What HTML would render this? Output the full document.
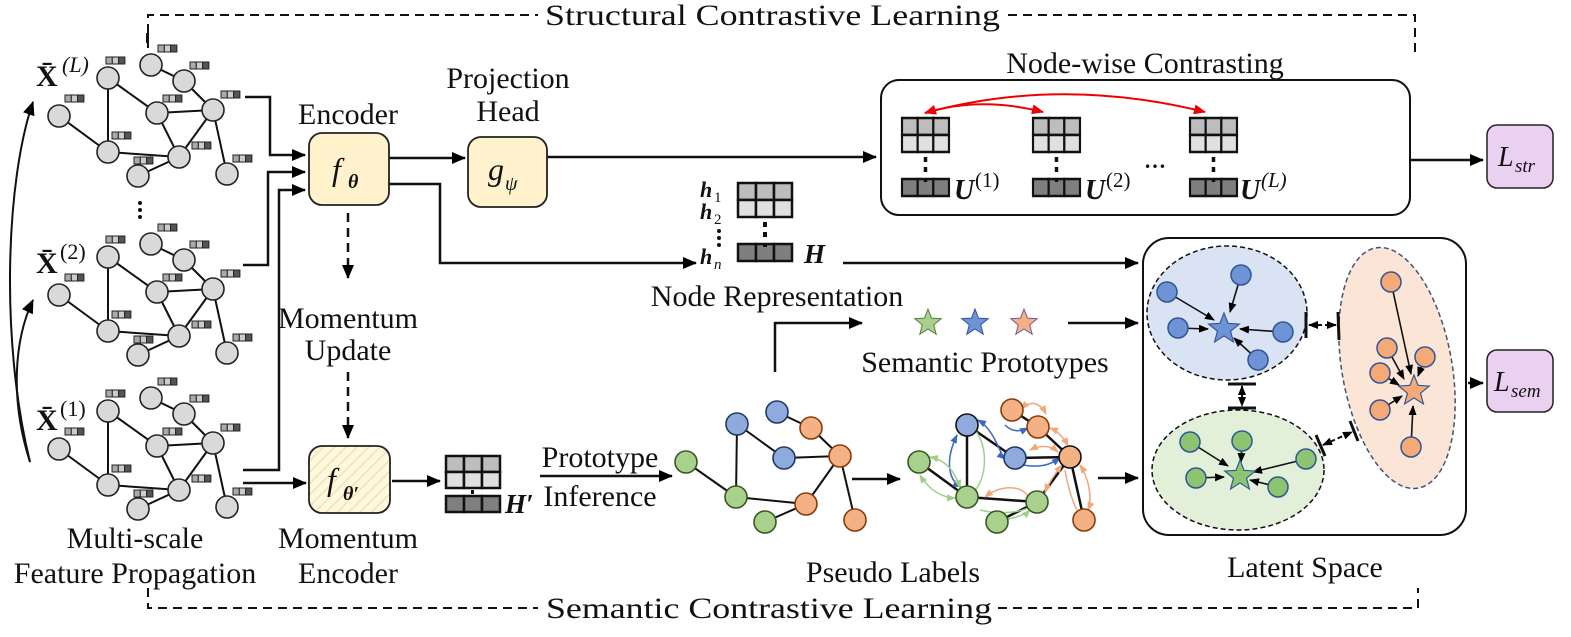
<!DOCTYPE html>
<html><head><meta charset="utf-8"><style>
html,body{margin:0;padding:0;background:#fff}
svg{display:block}
text{font-family:"Liberation Serif",serif;fill:#111}
.t{font-size:30px}
.m{font-style:italic}
</style></head><body>
<svg width="1571" height="637" viewBox="0 0 1571 637" xmlns="http://www.w3.org/2000/svg">
<defs>
<marker id="a" markerUnits="userSpaceOnUse" markerWidth="14" markerHeight="12" refX="13" refY="6" orient="auto"><path d="M0,0 L14,6 L0,12 Z" fill="#000"/></marker>
<marker id="as" markerUnits="userSpaceOnUse" markerWidth="10" markerHeight="8" refX="9" refY="4" orient="auto"><path d="M0,0 L10,4 L0,8 Z" fill="#000"/></marker>
<marker id="ar" markerUnits="userSpaceOnUse" markerWidth="12" markerHeight="10" refX="11" refY="5" orient="auto-start-reverse"><path d="M0,0 L12,5 L0,10 Z" fill="#e00"/></marker>
<marker id="ab" markerUnits="userSpaceOnUse" markerWidth="9" markerHeight="7" refX="8" refY="3.5" orient="auto-start-reverse"><path d="M0,0 L9,3.5 L0,7 Z" fill="#3a66c4"/></marker>
<marker id="ao" markerUnits="userSpaceOnUse" markerWidth="9" markerHeight="7" refX="8" refY="3.5" orient="auto-start-reverse"><path d="M0,0 L9,3.5 L0,7 Z" fill="#f0a77a"/></marker>
<marker id="ag" markerUnits="userSpaceOnUse" markerWidth="9" markerHeight="7" refX="8" refY="3.5" orient="auto-start-reverse"><path d="M0,0 L9,3.5 L0,7 Z" fill="#9fd08a"/></marker>
<marker id="ad" markerUnits="userSpaceOnUse" markerWidth="10" markerHeight="8" refX="9" refY="4" orient="auto-start-reverse"><path d="M0,0 L10,4 L0,8 Z" fill="#000"/></marker>
<pattern id="hat" patternUnits="userSpaceOnUse" width="8" height="8" patternTransform="rotate(45)"><rect width="8" height="8" fill="#fff8e0"/><line x1="0" y1="0" x2="0" y2="8" stroke="#f3e2b0" stroke-width="3"/></pattern>
<polygon id="star" points="0,-14 3.5,-4.9 13.3,-4.3 5.7,1.9 8.2,11.3 0,6 -8.2,11.3 -5.7,1.9 -13.3,-4.3 -3.5,-4.9"/>
<g id="fb"><rect x="0" y="0" width="6.3" height="7" fill="#aaa" stroke="#222" stroke-width="1"/><rect x="6.3" y="0" width="6.3" height="7" fill="#ccc" stroke="#222" stroke-width="1"/><rect x="12.6" y="0" width="6.3" height="7" fill="#555" stroke="#222" stroke-width="1"/></g>
<g id="mat" stroke="#111" stroke-width="2.5">
<rect x="0" y="0" width="18" height="17" fill="#bdbdbd"/><rect x="18" y="0" width="18" height="17" fill="#bdbdbd"/><rect x="36" y="0" width="18" height="17" fill="#bdbdbd"/>
<rect x="0" y="17" width="18" height="17" fill="#e0e0e0"/><rect x="18" y="17" width="18" height="17" fill="#e0e0e0"/><rect x="36" y="17" width="18" height="17" fill="#e0e0e0"/>
<rect x="0" y="61" width="18" height="17" fill="#7f7f7f"/><rect x="18" y="61" width="18" height="17" fill="#7f7f7f"/><rect x="36" y="61" width="18" height="17" fill="#7f7f7f"/>
<line x1="27" y1="39" x2="27" y2="44" stroke-width="4"/><line x1="27" y1="49" x2="27" y2="54" stroke-width="4"/><line x1="27" y1="60" x2="27" y2="64" stroke-width="4"/>
</g>
<g id="g">
<g stroke="#111" stroke-width="2">
<line x1="151" y1="65" x2="184" y2="81"/><line x1="184" y1="81" x2="213" y2="110"/><line x1="108" y1="78" x2="157" y2="113"/><line x1="108" y1="78" x2="108" y2="152"/><line x1="157" y1="113" x2="213" y2="110"/><line x1="157" y1="113" x2="179" y2="157"/><line x1="213" y1="110" x2="179" y2="157"/><line x1="213" y1="110" x2="227" y2="174"/><line x1="59" y1="116" x2="108" y2="152"/><line x1="108" y1="152" x2="179" y2="157"/><line x1="138" y1="176" x2="179" y2="157"/>
</g>
<g fill="#d9d9d9" stroke="#222" stroke-width="1.6">
<circle cx="151" cy="65" r="11"/><circle cx="184" cy="81" r="11"/><circle cx="108" cy="78" r="11"/><circle cx="213" cy="110" r="11"/><circle cx="157" cy="113" r="11"/><circle cx="59" cy="116" r="11"/><circle cx="108" cy="152" r="11"/><circle cx="179" cy="157" r="11"/><circle cx="138" cy="176" r="11"/><circle cx="227" cy="174" r="11"/>
</g>
<use href="#fb" x="158" y="45"/><use href="#fb" x="190" y="62"/><use href="#fb" x="106" y="57"/><use href="#fb" x="221" y="91"/><use href="#fb" x="163" y="95"/><use href="#fb" x="65" y="95"/><use href="#fb" x="112" y="132"/><use href="#fb" x="192" y="142"/><use href="#fb" x="134" y="157"/><use href="#fb" x="233" y="155"/>
</g>
</defs>

<!-- dashed frames -->
<g fill="none" stroke="#111" stroke-width="2" stroke-dasharray="9,6">
<path d="M148,48 V15 H538"/><path d="M1008,15 H1415 V53"/>
<path d="M148,588 V608 H538"/><path d="M998,608 H1418 V588"/>
</g>
<text class="t" x="545" y="25" textLength="455" lengthAdjust="spacingAndGlyphs">Structural Contrastive Learning</text>
<text class="t" x="546" y="618" textLength="446" lengthAdjust="spacingAndGlyphs">Semantic Contrastive Learning</text>

<!-- graphs -->
<use href="#g"/>
<use href="#g" y="179"/>
<use href="#g" y="333"/>
<g fill="#111"><circle cx="140" cy="203" r="2"/><circle cx="140" cy="210" r="2"/><circle cx="140" cy="217" r="2"/><rect x="146" y="33" width="3" height="10"/></g>
<text x="36" y="86" font-size="30" font-weight="bold">X̄</text><text x="62" y="72" font-size="22" class="m">(L)</text>
<text x="36" y="273" font-size="30" font-weight="bold">X̄</text><text x="60" y="259" font-size="22">(2)</text>
<text x="36" y="430" font-size="30" font-weight="bold">X̄</text><text x="60" y="416" font-size="22">(1)</text>
<g fill="none" stroke="#111" stroke-width="2">
<path d="M30,462 C0,340 6,180 33,102" marker-end="url(#a)"/>
<path d="M30,462 C10,400 14,340 33,300" marker-end="url(#a)"/>
</g>

<!-- connectors to encoder -->
<g fill="none" stroke="#111" stroke-width="2.5">
<path d="M245,97 H270 V155 H305" marker-end="url(#a)"/>
<path d="M243,265 H268 V172 H305" marker-end="url(#a)"/>
<path d="M243,470 H279 V190 H305" marker-end="url(#a)"/>
<path d="M243,483 H306" marker-end="url(#a)"/>
<path d="M389,158 H465" marker-end="url(#a)"/>
<path d="M389,184 H440 V263 H696" marker-end="url(#a)"/>
<path d="M547,157 H876" marker-end="url(#a)"/>
<path d="M392,481 H440" marker-end="url(#a)"/>
<path d="M540,476 H672" marker-end="url(#a)"/>
<path d="M843,263 H1138" marker-end="url(#a)"/>
<path d="M775,372 V323 H862" marker-end="url(#a)"/>
<path d="M1068,323 H1138" marker-end="url(#a)"/>
<path d="M852,479 H900" marker-end="url(#a)"/>
<path d="M1098,478 H1138" marker-end="url(#a)"/>
<path d="M1410,160 H1483" marker-end="url(#a)"/>
<path d="M1468,383 H1483" marker-end="url(#a)"/>
</g>
<g fill="none" stroke="#111" stroke-width="2.5" stroke-dasharray="9,6">
<path d="M348,213 V278" marker-end="url(#a)"/>
<path d="M348,372 V438" marker-end="url(#a)"/>
</g>

<!-- encoder boxes -->
<rect x="309" y="133" width="80" height="72" rx="13" fill="#fff2cc" stroke="#222" stroke-width="1.8"/>
<text x="332" y="180" font-size="32" class="m">f</text><text x="348" y="188" font-size="20" font-weight="bold" class="m">θ</text>
<rect x="468" y="137" width="79" height="70" rx="13" fill="#fff2cc" stroke="#222" stroke-width="1.8"/>
<text x="488" y="180" font-size="32" class="m">g</text><text x="505" y="190" font-size="20" class="m">ψ</text>
<rect x="309" y="446" width="81" height="67" rx="13" fill="url(#hat)" stroke="#222" stroke-width="1.8"/>
<text x="327" y="490" font-size="32" class="m">f</text><text x="343" y="500" font-size="20" font-weight="bold" class="m">θ′</text>

<text class="t" x="348" y="124" text-anchor="middle">Encoder</text>
<text class="t" x="508" y="88" text-anchor="middle">Projection</text>
<text class="t" x="508" y="121" text-anchor="middle">Head</text>
<text class="t" x="348" y="328" text-anchor="middle">Momentum</text>
<text class="t" x="348" y="360" text-anchor="middle">Update</text>
<text class="t" x="135" y="548" text-anchor="middle">Multi-scale</text>
<text class="t" x="135" y="583" text-anchor="middle">Feature Propagation</text>
<text class="t" x="348" y="548" text-anchor="middle">Momentum</text>
<text class="t" x="348" y="583" text-anchor="middle">Encoder</text>
<text class="t" x="600" y="467" text-anchor="middle">Prototype</text>
<text class="t" x="600" y="506" text-anchor="middle">Inference</text>
<text class="t" x="777" y="306" text-anchor="middle">Node Representation</text>
<text class="t" x="985" y="372" text-anchor="middle">Semantic Prototypes</text>
<text class="t" x="893" y="582" text-anchor="middle">Pseudo Labels</text>
<text class="t" x="1305" y="577" text-anchor="middle">Latent Space</text>

<!-- H -->
<use href="#mat" x="738" y="183"/>
<text x="700" y="197" font-size="22" font-weight="bold" class="m">h</text><text x="714" y="202" font-size="15">1</text>
<text x="700" y="219" font-size="22" font-weight="bold" class="m">h</text><text x="714" y="224" font-size="15">2</text>
<text x="700" y="264" font-size="22" font-weight="bold" class="m">h</text><text x="714" y="269" font-size="15" class="m">n</text>
<g fill="#111"><circle cx="719" cy="231" r="2"/><circle cx="719" cy="238" r="2"/><circle cx="719" cy="245" r="2"/></g>
<text x="804" y="263" font-size="27" font-weight="bold" class="m">H</text>
<!-- H' -->
<g stroke="#111" stroke-width="2.5">
<rect x="446" y="456" width="18" height="16" fill="#bdbdbd"/><rect x="464" y="456" width="18" height="16" fill="#bdbdbd"/><rect x="482" y="456" width="18" height="16" fill="#bdbdbd"/>
<rect x="446" y="472" width="18" height="16" fill="#e0e0e0"/><rect x="464" y="472" width="18" height="16" fill="#e0e0e0"/><rect x="482" y="472" width="18" height="16" fill="#e0e0e0"/>
<rect x="446" y="496" width="18" height="16" fill="#7f7f7f"/><rect x="464" y="496" width="18" height="16" fill="#7f7f7f"/><rect x="482" y="496" width="18" height="16" fill="#7f7f7f"/>
</g>
<rect x="471" y="490" width="3" height="4" fill="#111"/>
<text x="505" y="513" font-size="27" font-weight="bold" class="m">H′</text>

<!-- node-wise contrasting -->
<text class="t" x="1145" y="73" text-anchor="middle">Node-wise Contrasting</text>
<rect x="881" y="80" width="529" height="135" rx="18" fill="none" stroke="#111" stroke-width="2"/>
<use href="#mat" transform="translate(902,118) scale(0.87,1)"/>
<use href="#mat" transform="translate(1033,118) scale(0.87,1)"/>
<use href="#mat" transform="translate(1190,118) scale(0.87,1)"/>
<text x="954" y="199" font-size="28" font-weight="bold" class="m">U</text><text x="975" y="187" font-size="21">(1)</text>
<text x="1085" y="199" font-size="28" font-weight="bold" class="m">U</text><text x="1106" y="187" font-size="21">(2)</text>
<text x="1240" y="199" font-size="28" font-weight="bold" class="m">U</text><text x="1261" y="187" font-size="21" class="m">(L)</text>
<text x="1155" y="168" font-size="22" text-anchor="middle" font-weight="bold">…</text>
<g fill="none" stroke="#e00" stroke-width="2">
<path d="M925,113 Q980,96 1043,112" marker-start="url(#ar)" marker-end="url(#ar)"/>
<path d="M925,113 Q1060,76 1205,112" marker-end="url(#ar)"/>
</g>

<!-- loss boxes -->
<rect x="1487" y="125" width="66" height="63" rx="10" fill="#ead1f2" stroke="#222" stroke-width="1.5"/>
<text x="1498" y="166" font-size="28" class="m">L</text><text x="1515" y="172" font-size="19" class="m">str</text>
<rect x="1487" y="350" width="66" height="62" rx="10" fill="#ead1f2" stroke="#222" stroke-width="1.5"/>
<text x="1494" y="391" font-size="28" class="m">L</text><text x="1511" y="397" font-size="19" class="m">sem</text>

<!-- semantic prototype stars -->
<use href="#star" transform="translate(928,323)" fill="#a9d18e" stroke="#548235" stroke-width="1"/>
<use href="#star" transform="translate(975,323)" fill="#6f94d6" stroke="#2f5597" stroke-width="1"/>
<use href="#star" transform="translate(1024,323)" fill="#f4b183" stroke="#7a5a8a" stroke-width="1"/>

<!-- pseudo graph 1 -->
<g stroke="#111" stroke-width="2">
<line x1="686" y1="462" x2="736" y2="497"/><line x1="737" y1="424" x2="736" y2="497"/><line x1="737" y1="424" x2="784" y2="458"/><line x1="777" y1="412" x2="811" y2="428"/><line x1="811" y1="428" x2="840" y2="456"/><line x1="784" y1="458" x2="840" y2="456"/><line x1="736" y1="497" x2="806" y2="504"/><line x1="765" y1="522" x2="806" y2="504"/><line x1="806" y1="504" x2="840" y2="456"/><line x1="840" y1="456" x2="855" y2="520"/>
</g>
<g stroke-width="1.6">
<circle cx="686" cy="462" r="11" fill="#a9d18e" stroke="#385723"/><circle cx="737" cy="424" r="11" fill="#8faadc" stroke="#1f3864"/><circle cx="777" cy="412" r="11" fill="#8faadc" stroke="#1f3864"/><circle cx="811" cy="428" r="11" fill="#f4b183" stroke="#843c0c"/><circle cx="784" cy="458" r="11" fill="#8faadc" stroke="#1f3864"/><circle cx="840" cy="456" r="11" fill="#f4b183" stroke="#843c0c"/><circle cx="736" cy="497" r="11" fill="#a9d18e" stroke="#385723"/><circle cx="806" cy="504" r="11" fill="#f4b183" stroke="#843c0c"/><circle cx="765" cy="522" r="11" fill="#a9d18e" stroke="#385723"/><circle cx="855" cy="520" r="11" fill="#f4b183" stroke="#843c0c"/>
</g>

<!-- pseudo graph 2 -->
<g stroke="#111" stroke-width="2.5">
<line x1="919" y1="462" x2="967" y2="497"/><line x1="967" y1="425" x2="967" y2="497"/><line x1="967" y1="425" x2="1015" y2="458"/><line x1="1012" y1="410" x2="1038" y2="427"/><line x1="1038" y1="427" x2="1070" y2="457"/><line x1="1015" y1="458" x2="1070" y2="457"/><line x1="967" y1="497" x2="1037" y2="502"/><line x1="997" y1="522" x2="1037" y2="502"/><line x1="1037" y1="502" x2="1070" y2="457"/><line x1="1070" y1="457" x2="1084" y2="520"/>
</g>
<g fill="none" stroke-width="1.5">
<path d="M957,435 C945,460 948,480 961,487" stroke="#3a66c4" marker-start="url(#ab)" marker-end="url(#ab)"/>
<path d="M978,420 C995,430 1000,455 1005,459" stroke="#3a66c4" marker-start="url(#ab)" marker-end="url(#ab)"/>
<path d="M1023,465 C1040,468 1050,465 1060,458" stroke="#3a66c4" marker-end="url(#ab)"/>
<path d="M1005,425 C1012,432 1020,432 1028,428" stroke="#3a66c4" marker-end="url(#ab)"/>
<path d="M930,457 C945,460 955,470 960,488" stroke="#9fd08a" marker-start="url(#ag)" marker-end="url(#ag)"/>
<path d="M920,475 C930,492 945,498 955,498" stroke="#9fd08a" marker-start="url(#ag)" marker-end="url(#ag)"/>
<path d="M975,430 C990,450 985,480 975,490" stroke="#9fd08a"/>
<path d="M1003,520 C1015,518 1025,515 1030,510" stroke="#9fd08a" marker-end="url(#ag)"/>
<path d="M980,510 C1000,515 1020,512 1028,508" stroke="#9fd08a"/>
<path d="M1021,409 C1030,400 1040,402 1046,414" stroke="#f0a77a" marker-start="url(#ao)" marker-end="url(#ao)"/>
<path d="M1050,428 C1060,432 1065,440 1068,446" stroke="#f0a77a" marker-start="url(#ao)" marker-end="url(#ao)"/>
<path d="M1030,450 C1040,445 1050,445 1058,452" stroke="#f0a77a" marker-start="url(#ao)" marker-end="url(#ao)"/>
<path d="M1045,492 C1050,480 1058,470 1062,465" stroke="#f0a77a" marker-start="url(#ao)" marker-end="url(#ao)"/>
<path d="M985,497 C1000,485 1020,485 1027,495" stroke="#f0a77a" marker-start="url(#ao)"/>
<path d="M1080,465 C1090,480 1092,500 1088,510" stroke="#f0a77a" marker-start="url(#ao)" marker-end="url(#ao)"/>
<path d="M1065,470 C1068,488 1072,500 1077,510" stroke="#f0a77a"/>
</g>
<g stroke-width="1.6">
<circle cx="919" cy="462" r="11" fill="#a9d18e" stroke="#385723"/><circle cx="967" cy="425" r="11" fill="#8faadc" stroke="#111"/><circle cx="1012" cy="410" r="11" fill="#f4b183" stroke="#843c0c"/><circle cx="1038" cy="427" r="11" fill="#f4b183" stroke="#843c0c"/><circle cx="1015" cy="458" r="11" fill="#8faadc" stroke="#1f3864"/><circle cx="1070" cy="457" r="11" fill="#f4b183" stroke="#111"/><circle cx="967" cy="497" r="11" fill="#a9d18e" stroke="#385723"/><circle cx="1037" cy="502" r="11" fill="#a9d18e" stroke="#385723"/><circle cx="997" cy="522" r="11" fill="#a9d18e" stroke="#385723"/><circle cx="1084" cy="520" r="11" fill="#f4b183" stroke="#843c0c"/>
</g>

<!-- latent space -->
<rect x="1143" y="238" width="323" height="297" rx="26" fill="none" stroke="#111" stroke-width="2"/>
<ellipse cx="1227" cy="313" rx="80" ry="67" fill="#dae3f3" stroke="#111" stroke-width="1.5" stroke-dasharray="5,3"/>
<ellipse cx="1238" cy="470" rx="86" ry="60" fill="#e2efd9" stroke="#111" stroke-width="1.5" stroke-dasharray="5,3"/>
<ellipse cx="1397" cy="368" rx="55" ry="122" transform="rotate(-10 1397 368)" fill="#fbe5d6" stroke="#44546a" stroke-width="1.5" stroke-dasharray="5,3"/>
<g stroke="#111" stroke-width="1.6">
<line x1="1167" y1="292" x2="1214" y2="320" marker-end="url(#as)"/><line x1="1241" y1="275" x2="1230" y2="312" marker-end="url(#as)"/><line x1="1178" y1="328" x2="1208" y2="329" marker-end="url(#as)"/><line x1="1283" y1="332" x2="1240" y2="329" marker-end="url(#as)"/><line x1="1258" y1="360" x2="1234" y2="338" marker-end="url(#as)"/>
<line x1="1190" y1="442" x2="1228" y2="466" marker-end="url(#as)"/><line x1="1242" y1="441" x2="1241" y2="462" marker-end="url(#as)"/><line x1="1306" y1="459" x2="1253" y2="472" marker-end="url(#as)"/><line x1="1196" y1="478" x2="1224" y2="477" marker-end="url(#as)"/><line x1="1278" y1="487" x2="1250" y2="480" marker-end="url(#as)"/>
<line x1="1391" y1="282" x2="1411" y2="374" marker-end="url(#as)"/><line x1="1387" y1="348" x2="1404" y2="379" marker-end="url(#as)"/><line x1="1425" y1="357" x2="1418" y2="376" marker-end="url(#as)"/><line x1="1380" y1="373" x2="1399" y2="385" marker-end="url(#as)"/><line x1="1380" y1="410" x2="1402" y2="396" marker-end="url(#as)"/><line x1="1411" y1="447" x2="1413" y2="406" marker-end="url(#as)"/>
</g>
<g stroke-width="1.5">
<circle cx="1167" cy="292" r="10" fill="#6f94d6" stroke="#2f5597"/><circle cx="1241" cy="275" r="10" fill="#6f94d6" stroke="#2f5597"/><circle cx="1178" cy="328" r="10" fill="#6f94d6" stroke="#2f5597"/><circle cx="1283" cy="332" r="10" fill="#6f94d6" stroke="#2f5597"/><circle cx="1258" cy="360" r="10" fill="#6f94d6" stroke="#2f5597"/>
<circle cx="1190" cy="442" r="10" fill="#8dc46f" stroke="#2f5597"/><circle cx="1242" cy="441" r="10" fill="#8dc46f" stroke="#2f5597"/><circle cx="1306" cy="459" r="10" fill="#8dc46f" stroke="#2f5597"/><circle cx="1196" cy="478" r="10" fill="#8dc46f" stroke="#2f5597"/><circle cx="1278" cy="487" r="10" fill="#8dc46f" stroke="#2f5597"/>
<circle cx="1391" cy="282" r="10" fill="#f4a976" stroke="#2f5597"/><circle cx="1387" cy="348" r="10" fill="#f4a976" stroke="#2f5597"/><circle cx="1425" cy="357" r="10" fill="#f4a976" stroke="#2f5597"/><circle cx="1380" cy="373" r="10" fill="#f4a976" stroke="#2f5597"/><circle cx="1380" cy="410" r="10" fill="#f4a976" stroke="#2f5597"/><circle cx="1411" cy="447" r="10" fill="#f4a976" stroke="#2f5597"/>
</g>
<use href="#star" transform="translate(1224,329) scale(1.15)" fill="#6f94d6" stroke="#2f5597" stroke-width="1"/>
<use href="#star" transform="translate(1240,476) scale(1.15)" fill="#8dc46f" stroke="#2f5597" stroke-width="1"/>
<use href="#star" transform="translate(1414,391) scale(1.15)" fill="#f4a976" stroke="#2f5597" stroke-width="1"/>
<g stroke="#111" stroke-width="2" fill="none">
<path d="M1309,325 H1336" stroke-dasharray="5,3" marker-start="url(#ad)" marker-end="url(#ad)"/>
<line x1="1306" y1="312" x2="1306" y2="338" stroke-width="3"/><line x1="1338" y1="312" x2="1339" y2="340" stroke-width="3"/>
<path d="M1242,386 V406" stroke-dasharray="4,3" marker-start="url(#ad)" marker-end="url(#ad)"/>
<line x1="1228" y1="384" x2="1256" y2="384" stroke-width="3"/><line x1="1228" y1="408" x2="1256" y2="408" stroke-width="3"/>
<path d="M1323,445 L1352,432" stroke-dasharray="5,3" marker-start="url(#ad)" marker-end="url(#ad)"/>
<line x1="1316" y1="435" x2="1325" y2="456" stroke-width="3"/><line x1="1350" y1="421" x2="1358" y2="441" stroke-width="3"/>
</g>
</svg>
</body></html>
